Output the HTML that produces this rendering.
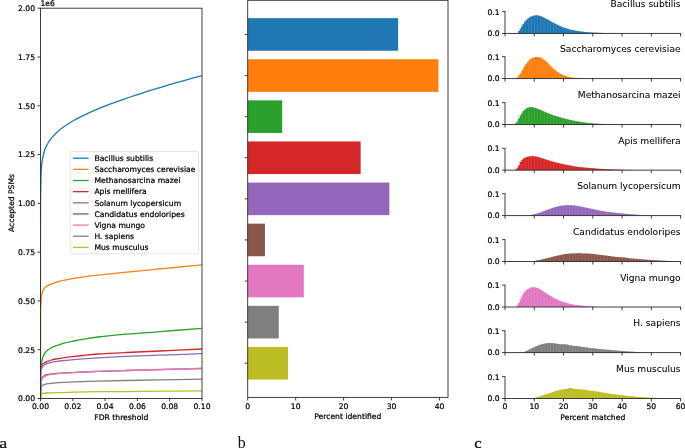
<!DOCTYPE html>
<html><head><meta charset="utf-8"><title>figure</title>
<style>html,body{margin:0;padding:0;background:#fff;overflow:hidden}svg{display:block}
text{font-family:"DejaVu Sans","Liberation Sans",sans-serif;fill:#000;stroke:#000;stroke-width:0.22px}</style></head>
<body><svg width="685" height="448" viewBox="0 0 685 448">
<rect width="685" height="448" fill="#fff"/>
<clipPath id="ca"><rect x="40.5" y="8.2" width="161.5" height="390.3"/></clipPath><g clip-path="url(#ca)">
<path d="M40.45,398 C40.45,370 40.43,262.17 40.45,230 C40.47,197.83 40.5,211.67 40.55,205 C40.6,198.33 40.67,194.67 40.75,190 C40.83,185.33 40.88,180.93 41,177 C41.12,173.07 41.2,169.65 41.5,166.4 C41.8,163.15 42.23,160.31 42.8,157.5 C43.37,154.69 44.28,151.45 44.9,149.51 C45.52,147.57 45.9,147.06 46.5,145.85 C47.1,144.64 47.75,143.46 48.5,142.27 C49.25,141.08 50.1,139.86 51,138.7 C51.9,137.54 52.9,136.39 53.9,135.32 C54.9,134.24 55.85,133.31 57,132.27 C58.15,131.22 59.3,130.22 60.8,129.05 C62.3,127.89 63.92,126.66 66,125.28 C68.08,123.9 70.97,122.13 73.3,120.77 C75.63,119.42 77.22,118.56 80,117.16 C82.78,115.77 86.67,113.9 90,112.39 C93.33,110.88 96.67,109.48 100,108.12 C103.33,106.75 106.33,105.58 110,104.2 C113.67,102.82 117.83,101.3 122,99.83 C126.17,98.37 130.67,96.84 135,95.41 C139.33,93.98 143.83,92.54 148,91.23 C152.17,89.92 156,88.75 160,87.54 C164,86.34 167.83,85.2 172,83.99 C176.17,82.77 181.17,81.35 185,80.26 C188.83,79.17 192.17,78.25 195,77.46 C197.83,76.68 200.83,75.86 202,75.54" fill="none" stroke="#1f77b4" stroke-width="1.3" stroke-linejoin="round"/>
<path d="M40.45,398 C40.46,385 40.44,335.33 40.5,320 C40.56,304.67 40.65,309.75 40.8,306 C40.95,302.25 41.13,299.85 41.4,297.5 C41.67,295.15 42.03,293.27 42.4,291.9 C42.77,290.53 43.02,290.15 43.6,289.3 C44.18,288.45 44.7,287.65 45.9,286.8 C47.1,285.95 48.32,285.18 50.8,284.2 C53.28,283.22 55,282.17 60.8,280.9 C66.6,279.63 77.33,277.77 85.6,276.6 C93.87,275.43 102.13,274.77 110.4,273.9 C118.67,273.03 126.93,272.23 135.2,271.4 C143.47,270.57 151.72,269.72 160,268.9 C168.28,268.08 177.9,267.18 184.9,266.5 C191.9,265.82 199.15,265.08 202,264.8" fill="none" stroke="#ff7f0e" stroke-width="1.3" stroke-linejoin="round"/>
<path d="M40.45,398 C40.46,393.67 40.44,377.33 40.5,372 C40.56,366.67 40.62,367.62 40.8,366 C40.98,364.38 41.32,363.6 41.6,362.3 C41.88,361 42.06,359.55 42.5,358.2 C42.94,356.85 43.52,355.43 44.25,354.2 C44.98,352.97 45.71,351.88 46.9,350.8 C48.09,349.72 49.9,348.53 51.4,347.7 C52.9,346.87 53.67,346.6 55.9,345.8 C58.13,345 61.83,343.7 64.8,342.9 C67.77,342.1 70.73,341.58 73.7,341 C76.67,340.42 78.55,340.07 82.6,339.4 C86.65,338.73 90.77,337.87 98,337 C105.23,336.13 115.67,335.1 126,334.2 C136.33,333.3 147.33,332.57 160,331.6 C172.67,330.63 195,328.93 202,328.4" fill="none" stroke="#2ca02c" stroke-width="1.3" stroke-linejoin="round"/>
<path d="M40.45,398 C40.46,394.33 40.44,380.83 40.5,376 C40.56,371.17 40.62,370.73 40.8,369 C40.98,367.27 41.17,366.5 41.6,365.6 C42.03,364.7 42.52,364.25 43.4,363.6 C44.28,362.95 45.57,362.3 46.9,361.7 C48.23,361.1 49.9,360.45 51.4,360 C52.9,359.55 53.67,359.4 55.9,359 C58.13,358.6 61.83,358.02 64.8,357.6 C67.77,357.18 70.73,356.85 73.7,356.5 C76.67,356.15 78.55,355.92 82.6,355.5 C86.65,355.08 90.77,354.5 98,354 C105.23,353.5 115.67,353 126,352.5 C136.33,352 147.33,351.58 160,351 C172.67,350.42 195,349.33 202,349" fill="none" stroke="#d62728" stroke-width="1.3" stroke-linejoin="round"/>
<path d="M40.45,398 C40.46,394.67 40.44,382.33 40.5,378 C40.56,373.67 40.67,373.42 40.8,372 C40.93,370.58 41.02,370.42 41.3,369.5 C41.58,368.58 41.87,367.37 42.5,366.5 C43.13,365.63 43.62,364.98 45.1,364.3 C46.58,363.62 49.6,362.85 51.4,362.4 C53.2,361.95 53.67,361.92 55.9,361.6 C58.13,361.28 61.83,360.83 64.8,360.5 C67.77,360.17 70.73,359.88 73.7,359.6 C76.67,359.32 78.55,359.1 82.6,358.8 C86.65,358.5 90.77,358.2 98,357.8 C105.23,357.4 115.67,356.83 126,356.4 C136.33,355.97 147.33,355.67 160,355.2 C172.67,354.73 195,353.87 202,353.6" fill="none" stroke="#9467bd" stroke-width="1.3" stroke-linejoin="round"/>
<path d="M40.45,398 C40.46,396.5 40.44,391.25 40.5,389 C40.56,386.75 40.67,385.8 40.8,384.5 C40.93,383.2 41.1,382.28 41.3,381.2 C41.5,380.12 41.51,378.88 42,378 C42.49,377.12 43.43,376.45 44.25,375.9 C45.07,375.35 45.71,375.03 46.9,374.7 C48.09,374.37 49.9,374.1 51.4,373.9 C52.9,373.7 53.67,373.67 55.9,373.5 C58.13,373.33 60.35,373.15 64.8,372.9 C69.25,372.65 77.07,372.25 82.6,372 C88.13,371.75 90.77,371.65 98,371.4 C105.23,371.15 115.67,370.8 126,370.5 C136.33,370.2 147.33,369.93 160,369.6 C172.67,369.27 195,368.68 202,368.5" fill="none" stroke="#8c564b" stroke-width="1.3" stroke-linejoin="round"/>
<path d="M40.45,398 C40.46,396.67 40.44,392.08 40.5,390 C40.56,387.92 40.67,386.78 40.8,385.5 C40.93,384.22 41.1,383.4 41.3,382.3 C41.5,381.2 41.51,379.85 42,378.9 C42.49,377.95 43.43,377.2 44.25,376.6 C45.07,376 45.71,375.67 46.9,375.3 C48.09,374.93 49.9,374.63 51.4,374.4 C52.9,374.17 53.67,374.1 55.9,373.9 C58.13,373.7 60.35,373.5 64.8,373.2 C69.25,372.9 77.07,372.39 82.6,372.1 C88.13,371.81 90.77,371.72 98,371.45 C105.23,371.18 115.67,370.82 126,370.5 C136.33,370.18 147.33,369.87 160,369.5 C172.67,369.13 195,368.5 202,368.3" fill="none" stroke="#e377c2" stroke-width="1.3" stroke-linejoin="round"/>
<path d="M40.45,398 C40.46,397.33 40.46,395.17 40.5,394 C40.54,392.83 40.62,391.9 40.7,391 C40.78,390.1 40.78,389.45 41,388.6 C41.22,387.75 41.46,386.57 42,385.9 C42.54,385.22 43.43,384.9 44.25,384.55 C45.07,384.2 44.96,384.09 46.9,383.8 C48.84,383.51 52.92,383.05 55.9,382.8 C58.88,382.55 60.35,382.5 64.8,382.3 C69.25,382.1 77.07,381.78 82.6,381.6 C88.13,381.42 90.77,381.38 98,381.2 C105.23,381.02 115.67,380.72 126,380.5 C136.33,380.28 147.33,380.12 160,379.9 C172.67,379.68 195,379.32 202,379.2" fill="none" stroke="#7f7f7f" stroke-width="1.3" stroke-linejoin="round"/>
<path d="M40.45,398 C40.46,397.75 40.42,397.1 40.5,396.5 C40.58,395.9 40.62,394.9 40.95,394.4 C41.28,393.9 41.51,393.73 42.5,393.5 C43.49,393.27 44.67,393.13 46.9,393 C49.13,392.87 51.43,392.85 55.9,392.7 C60.37,392.55 66.68,392.28 73.7,392.1 C80.72,391.92 89.28,391.69 98,391.6 C106.72,391.51 115.67,391.62 126,391.55 C136.33,391.48 147.33,391.32 160,391.2 C172.67,391.07 195,390.87 202,390.8" fill="none" stroke="#bcbd22" stroke-width="1.3" stroke-linejoin="round"/>
</g><g>
<rect x="40.5" y="8.2" width="161.5" height="390.3" fill="none" stroke="#2a2a2a" stroke-width="0.9"/>
<line x1="37.5" y1="398.5" x2="40.5" y2="398.5" stroke="#2a2a2a" stroke-width="0.9" />
<text x="35.1" y="401.35" font-size="7.65" text-anchor="end" >0.00</text>
<line x1="37.5" y1="349.71" x2="40.5" y2="349.71" stroke="#2a2a2a" stroke-width="0.9" />
<text x="35.1" y="352.56" font-size="7.65" text-anchor="end" >0.25</text>
<line x1="37.5" y1="300.93" x2="40.5" y2="300.93" stroke="#2a2a2a" stroke-width="0.9" />
<text x="35.1" y="303.78" font-size="7.65" text-anchor="end" >0.50</text>
<line x1="37.5" y1="252.14" x2="40.5" y2="252.14" stroke="#2a2a2a" stroke-width="0.9" />
<text x="35.1" y="254.99" font-size="7.65" text-anchor="end" >0.75</text>
<line x1="37.5" y1="203.35" x2="40.5" y2="203.35" stroke="#2a2a2a" stroke-width="0.9" />
<text x="35.1" y="206.2" font-size="7.65" text-anchor="end" >1.00</text>
<line x1="37.5" y1="154.56" x2="40.5" y2="154.56" stroke="#2a2a2a" stroke-width="0.9" />
<text x="35.1" y="157.41" font-size="7.65" text-anchor="end" >1.25</text>
<line x1="37.5" y1="105.77" x2="40.5" y2="105.77" stroke="#2a2a2a" stroke-width="0.9" />
<text x="35.1" y="108.62" font-size="7.65" text-anchor="end" >1.50</text>
<line x1="37.5" y1="56.99" x2="40.5" y2="56.99" stroke="#2a2a2a" stroke-width="0.9" />
<text x="35.1" y="59.84" font-size="7.65" text-anchor="end" >1.75</text>
<line x1="37.5" y1="8.2" x2="40.5" y2="8.2" stroke="#2a2a2a" stroke-width="0.9" />
<text x="35.1" y="11.05" font-size="7.65" text-anchor="end" >2.00</text>
<line x1="40.5" y1="398.5" x2="40.5" y2="401.1" stroke="#2a2a2a" stroke-width="0.9" />
<text x="40.5" y="409.3" font-size="7.65" text-anchor="middle" >0.00</text>
<line x1="72.8" y1="398.5" x2="72.8" y2="401.1" stroke="#2a2a2a" stroke-width="0.9" />
<text x="72.8" y="409.3" font-size="7.65" text-anchor="middle" >0.02</text>
<line x1="105.1" y1="398.5" x2="105.1" y2="401.1" stroke="#2a2a2a" stroke-width="0.9" />
<text x="105.1" y="409.3" font-size="7.65" text-anchor="middle" >0.04</text>
<line x1="137.4" y1="398.5" x2="137.4" y2="401.1" stroke="#2a2a2a" stroke-width="0.9" />
<text x="137.4" y="409.3" font-size="7.65" text-anchor="middle" >0.06</text>
<line x1="169.7" y1="398.5" x2="169.7" y2="401.1" stroke="#2a2a2a" stroke-width="0.9" />
<text x="169.7" y="409.3" font-size="7.65" text-anchor="middle" >0.08</text>
<line x1="202" y1="398.5" x2="202" y2="401.1" stroke="#2a2a2a" stroke-width="0.9" />
<text x="202" y="409.3" font-size="7.65" text-anchor="middle" >0.10</text>
<text x="121.3" y="419.7" font-size="7.65" text-anchor="middle" >FDR threshold</text>
<text x="40.4" y="5.9" font-size="7.65" text-anchor="start" >1e6</text>
<text x="0" y="0" font-size="7.65" text-anchor="middle" transform="translate(13.6,203) rotate(-90)">Accepted PSMs</text>
<rect x="70.2" y="151.5" width="128.3" height="102.3" rx="1.5" fill="#fff" fill-opacity="0.8" stroke="#ccc" stroke-opacity="0.8" stroke-width="0.7"/>
<line x1="73" y1="158.2" x2="88.6" y2="158.2" stroke="#1f77b4" stroke-width="1.3" />
<text x="94.4" y="160.9" font-size="7.65" text-anchor="start" >Bacillus subtilis</text>
<line x1="73" y1="169.35" x2="88.6" y2="169.35" stroke="#ff7f0e" stroke-width="1.3" />
<text x="94.4" y="172.05" font-size="7.65" text-anchor="start" >Saccharomyces cerevisiae</text>
<line x1="73" y1="180.5" x2="88.6" y2="180.5" stroke="#2ca02c" stroke-width="1.3" />
<text x="94.4" y="183.2" font-size="7.65" text-anchor="start" >Methanosarcina mazei</text>
<line x1="73" y1="191.65" x2="88.6" y2="191.65" stroke="#d62728" stroke-width="1.3" />
<text x="94.4" y="194.35" font-size="7.65" text-anchor="start" >Apis mellifera</text>
<line x1="73" y1="202.8" x2="88.6" y2="202.8" stroke="#9467bd" stroke-width="1.3" />
<text x="94.4" y="205.5" font-size="7.65" text-anchor="start" >Solanum lycopersicum</text>
<line x1="73" y1="213.95" x2="88.6" y2="213.95" stroke="#8c564b" stroke-width="1.3" />
<text x="94.4" y="216.65" font-size="7.65" text-anchor="start" >Candidatus endoloripes</text>
<line x1="73" y1="225.1" x2="88.6" y2="225.1" stroke="#e377c2" stroke-width="1.3" />
<text x="94.4" y="227.8" font-size="7.65" text-anchor="start" >Vigna mungo</text>
<line x1="73" y1="236.25" x2="88.6" y2="236.25" stroke="#7f7f7f" stroke-width="1.3" />
<text x="94.4" y="238.95" font-size="7.65" text-anchor="start" >H. sapiens</text>
<line x1="73" y1="247.4" x2="88.6" y2="247.4" stroke="#bcbd22" stroke-width="1.3" />
<text x="94.4" y="250.1" font-size="7.65" text-anchor="start" >Mus musculus</text>
</g>
<g>
<rect x="247.7" y="18.15" width="150.43" height="32.6" fill="#1f77b4"/>
<line x1="244.7" y1="34.45" x2="247.7" y2="34.45" stroke="#2a2a2a" stroke-width="0.9" />
<rect x="247.7" y="59.25" width="190.76" height="32.6" fill="#ff7f0e"/>
<line x1="244.7" y1="75.55" x2="247.7" y2="75.55" stroke="#2a2a2a" stroke-width="0.9" />
<rect x="247.7" y="100.35" width="34.53" height="32.6" fill="#2ca02c"/>
<line x1="244.7" y1="116.65" x2="247.7" y2="116.65" stroke="#2a2a2a" stroke-width="0.9" />
<rect x="247.7" y="141.45" width="112.93" height="32.6" fill="#d62728"/>
<line x1="244.7" y1="157.75" x2="247.7" y2="157.75" stroke="#2a2a2a" stroke-width="0.9" />
<rect x="247.7" y="182.55" width="141.7" height="32.6" fill="#9467bd"/>
<line x1="244.7" y1="198.85" x2="247.7" y2="198.85" stroke="#2a2a2a" stroke-width="0.9" />
<rect x="247.7" y="223.65" width="17.26" height="32.6" fill="#8c564b"/>
<line x1="244.7" y1="239.95" x2="247.7" y2="239.95" stroke="#2a2a2a" stroke-width="0.9" />
<rect x="247.7" y="264.75" width="56.11" height="32.6" fill="#e377c2"/>
<line x1="244.7" y1="281.05" x2="247.7" y2="281.05" stroke="#2a2a2a" stroke-width="0.9" />
<rect x="247.7" y="305.85" width="31.07" height="32.6" fill="#7f7f7f"/>
<line x1="244.7" y1="322.15" x2="247.7" y2="322.15" stroke="#2a2a2a" stroke-width="0.9" />
<rect x="247.7" y="346.95" width="40.28" height="32.6" fill="#bcbd22"/>
<line x1="244.7" y1="363.25" x2="247.7" y2="363.25" stroke="#2a2a2a" stroke-width="0.9" />
<rect x="247.7" y="0.3" width="200.3" height="397.1" fill="none" stroke="#2a2a2a" stroke-width="0.9"/>
<line x1="247.7" y1="397.4" x2="247.7" y2="400.4" stroke="#2a2a2a" stroke-width="0.9" />
<text x="247.7" y="409" font-size="7.65" text-anchor="middle" >0</text>
<line x1="295.65" y1="397.4" x2="295.65" y2="400.4" stroke="#2a2a2a" stroke-width="0.9" />
<text x="295.65" y="409" font-size="7.65" text-anchor="middle" >10</text>
<line x1="343.61" y1="397.4" x2="343.61" y2="400.4" stroke="#2a2a2a" stroke-width="0.9" />
<text x="343.61" y="409" font-size="7.65" text-anchor="middle" >20</text>
<line x1="391.56" y1="397.4" x2="391.56" y2="400.4" stroke="#2a2a2a" stroke-width="0.9" />
<text x="391.56" y="409" font-size="7.65" text-anchor="middle" >30</text>
<line x1="439.52" y1="397.4" x2="439.52" y2="400.4" stroke="#2a2a2a" stroke-width="0.9" />
<text x="439.52" y="409" font-size="7.65" text-anchor="middle" >40</text>
<text x="347.8" y="418.9" font-size="7.65" text-anchor="middle" >Percent identified</text>
</g>
<g>
<g fill="#1f77b4">
<rect x="518.17" y="30.95" width="1.813" height="2.50"/>
<rect x="519.63" y="28.56" width="1.813" height="4.89"/>
<rect x="521.10" y="26.21" width="1.813" height="7.24"/>
<rect x="522.56" y="23.87" width="1.813" height="9.58"/>
<rect x="524.02" y="21.67" width="1.813" height="11.78"/>
<rect x="525.49" y="20.20" width="1.813" height="13.25"/>
<rect x="526.95" y="18.74" width="1.813" height="14.71"/>
<rect x="528.41" y="17.54" width="1.813" height="15.91"/>
<rect x="529.88" y="16.81" width="1.813" height="16.64"/>
<rect x="531.34" y="16.08" width="1.813" height="17.37"/>
<rect x="532.80" y="15.64" width="1.813" height="17.81"/>
<rect x="534.27" y="15.42" width="1.813" height="18.03"/>
<rect x="535.73" y="15.20" width="1.813" height="18.25"/>
<rect x="537.19" y="15.44" width="1.813" height="18.01"/>
<rect x="538.66" y="15.80" width="1.813" height="17.65"/>
<rect x="540.12" y="16.17" width="1.813" height="17.28"/>
<rect x="541.58" y="16.90" width="1.813" height="16.55"/>
<rect x="543.05" y="17.63" width="1.813" height="15.82"/>
<rect x="544.51" y="18.36" width="1.813" height="15.09"/>
<rect x="545.97" y="19.09" width="1.813" height="14.36"/>
<rect x="547.44" y="19.90" width="1.813" height="13.55"/>
<rect x="548.90" y="20.73" width="1.813" height="12.72"/>
<rect x="550.36" y="21.56" width="1.813" height="11.89"/>
<rect x="551.83" y="22.39" width="1.813" height="11.06"/>
<rect x="553.29" y="23.16" width="1.813" height="10.29"/>
<rect x="554.75" y="23.89" width="1.813" height="9.56"/>
<rect x="556.22" y="24.62" width="1.813" height="8.83"/>
<rect x="557.68" y="25.35" width="1.813" height="8.10"/>
<rect x="559.14" y="26.08" width="1.813" height="7.37"/>
<rect x="560.61" y="26.81" width="1.813" height="6.64"/>
<rect x="562.07" y="27.29" width="1.813" height="6.16"/>
<rect x="563.53" y="27.76" width="1.813" height="5.69"/>
<rect x="565.00" y="28.24" width="1.813" height="5.21"/>
<rect x="566.46" y="28.71" width="1.813" height="4.74"/>
<rect x="567.92" y="29.19" width="1.813" height="4.26"/>
<rect x="569.39" y="29.59" width="1.813" height="3.86"/>
<rect x="570.85" y="29.88" width="1.813" height="3.57"/>
<rect x="572.31" y="30.17" width="1.813" height="3.28"/>
<rect x="573.78" y="30.46" width="1.813" height="2.99"/>
<rect x="575.24" y="30.76" width="1.813" height="2.69"/>
<rect x="576.70" y="31.05" width="1.813" height="2.40"/>
<rect x="578.17" y="31.25" width="1.813" height="2.20"/>
<rect x="579.63" y="31.43" width="1.813" height="2.02"/>
<rect x="581.09" y="31.61" width="1.813" height="1.84"/>
<rect x="582.56" y="31.80" width="1.813" height="1.65"/>
<rect x="584.02" y="31.98" width="1.813" height="1.47"/>
<rect x="585.48" y="32.14" width="1.813" height="1.31"/>
<rect x="586.95" y="32.23" width="1.813" height="1.22"/>
<rect x="588.41" y="32.31" width="1.813" height="1.14"/>
<rect x="589.87" y="32.40" width="1.813" height="1.05"/>
<rect x="591.34" y="32.49" width="1.813" height="0.96"/>
<rect x="592.80" y="32.58" width="1.813" height="0.87"/>
<rect x="594.26" y="32.67" width="1.813" height="0.78"/>
<rect x="595.73" y="32.74" width="1.813" height="0.71"/>
<rect x="597.19" y="32.79" width="1.813" height="0.66"/>
<rect x="598.65" y="32.84" width="1.813" height="0.61"/>
<rect x="600.12" y="32.89" width="1.813" height="0.56"/>
<rect x="601.58" y="32.94" width="1.813" height="0.51"/>
<rect x="603.04" y="32.99" width="1.813" height="0.46"/>
<rect x="604.51" y="33.04" width="1.813" height="0.41"/>
<rect x="605.97" y="33.08" width="1.813" height="0.37"/>
<rect x="607.43" y="33.13" width="1.813" height="0.32"/>
<rect x="608.90" y="33.17" width="1.813" height="0.28"/>
<rect x="610.36" y="33.20" width="1.813" height="0.25"/>
<rect x="611.82" y="33.23" width="1.813" height="0.22"/>
<rect x="613.29" y="33.26" width="1.813" height="0.19"/>
<rect x="614.75" y="33.29" width="1.813" height="0.16"/>
<rect x="616.21" y="33.33" width="1.813" height="0.12"/>
</g>
<line x1="505" y1="11.15" x2="505" y2="33.9" stroke="#2a2a2a" stroke-width="0.9" />
<line x1="505" y1="33.45" x2="681.05" y2="33.45" stroke="#2a2a2a" stroke-width="0.9" />
<line x1="502" y1="11.6" x2="505" y2="11.6" stroke="#2a2a2a" stroke-width="0.9" />
<text x="499.6" y="14.75" font-size="7.65" text-anchor="end" >0.1</text>
<line x1="502" y1="33.45" x2="505" y2="33.45" stroke="#2a2a2a" stroke-width="0.9" />
<text x="499.6" y="36.3" font-size="7.65" text-anchor="end" >0.0</text>
<line x1="505" y1="33.45" x2="505" y2="36.45" stroke="#2a2a2a" stroke-width="0.9" />
<line x1="534.27" y1="33.45" x2="534.27" y2="36.45" stroke="#2a2a2a" stroke-width="0.9" />
<line x1="563.53" y1="33.45" x2="563.53" y2="36.45" stroke="#2a2a2a" stroke-width="0.9" />
<line x1="592.8" y1="33.45" x2="592.8" y2="36.45" stroke="#2a2a2a" stroke-width="0.9" />
<line x1="622.07" y1="33.45" x2="622.07" y2="36.45" stroke="#2a2a2a" stroke-width="0.9" />
<line x1="651.33" y1="33.45" x2="651.33" y2="36.45" stroke="#2a2a2a" stroke-width="0.9" />
<line x1="680.6" y1="33.45" x2="680.6" y2="36.45" stroke="#2a2a2a" stroke-width="0.9" />
<text x="680.6" y="7.25" font-size="9.12" text-anchor="end" style="stroke-width:0.06px">Bacillus subtilis</text>
<g fill="#ff7f0e">
<rect x="516.71" y="77.18" width="1.813" height="1.37"/>
<rect x="518.17" y="75.34" width="1.813" height="3.21"/>
<rect x="519.63" y="73.51" width="1.813" height="5.04"/>
<rect x="521.10" y="70.98" width="1.813" height="7.57"/>
<rect x="522.56" y="68.42" width="1.813" height="10.13"/>
<rect x="524.02" y="65.94" width="1.813" height="12.61"/>
<rect x="525.49" y="63.89" width="1.813" height="14.66"/>
<rect x="526.95" y="61.84" width="1.813" height="16.71"/>
<rect x="528.41" y="60.14" width="1.813" height="18.41"/>
<rect x="529.88" y="59.04" width="1.813" height="19.51"/>
<rect x="531.34" y="57.95" width="1.813" height="20.60"/>
<rect x="532.80" y="57.35" width="1.813" height="21.20"/>
<rect x="534.27" y="57.13" width="1.813" height="21.42"/>
<rect x="535.73" y="56.91" width="1.813" height="21.64"/>
<rect x="537.19" y="57.09" width="1.813" height="21.46"/>
<rect x="538.66" y="57.38" width="1.813" height="21.17"/>
<rect x="540.12" y="57.67" width="1.813" height="20.88"/>
<rect x="541.58" y="58.69" width="1.813" height="19.86"/>
<rect x="543.05" y="59.71" width="1.813" height="18.84"/>
<rect x="544.51" y="60.82" width="1.813" height="17.73"/>
<rect x="545.97" y="62.28" width="1.813" height="16.27"/>
<rect x="547.44" y="63.75" width="1.813" height="14.80"/>
<rect x="548.90" y="65.21" width="1.813" height="13.34"/>
<rect x="550.36" y="66.67" width="1.813" height="11.88"/>
<rect x="551.83" y="68.14" width="1.813" height="10.41"/>
<rect x="553.29" y="69.42" width="1.813" height="9.13"/>
<rect x="554.75" y="70.59" width="1.813" height="7.96"/>
<rect x="556.22" y="71.76" width="1.813" height="6.79"/>
<rect x="557.68" y="72.70" width="1.813" height="5.85"/>
<rect x="559.14" y="73.58" width="1.813" height="4.97"/>
<rect x="560.61" y="74.45" width="1.813" height="4.10"/>
<rect x="562.07" y="75.03" width="1.813" height="3.52"/>
<rect x="563.53" y="75.62" width="1.813" height="2.93"/>
<rect x="565.00" y="76.15" width="1.813" height="2.40"/>
<rect x="566.46" y="76.49" width="1.813" height="2.06"/>
<rect x="567.92" y="76.83" width="1.813" height="1.72"/>
<rect x="569.39" y="77.17" width="1.813" height="1.38"/>
<rect x="570.85" y="77.51" width="1.813" height="1.04"/>
<rect x="572.31" y="77.65" width="1.813" height="0.90"/>
<rect x="573.78" y="77.80" width="1.813" height="0.75"/>
<rect x="575.24" y="77.95" width="1.813" height="0.60"/>
<rect x="576.70" y="78.09" width="1.813" height="0.46"/>
<rect x="578.17" y="78.24" width="1.813" height="0.31"/>
<rect x="579.63" y="78.35" width="1.813" height="0.20"/>
<rect x="581.09" y="78.40" width="1.813" height="0.15"/>
</g>
<line x1="505" y1="56.25" x2="505" y2="79" stroke="#2a2a2a" stroke-width="0.9" />
<line x1="505" y1="78.55" x2="681.05" y2="78.55" stroke="#2a2a2a" stroke-width="0.9" />
<line x1="502" y1="56.7" x2="505" y2="56.7" stroke="#2a2a2a" stroke-width="0.9" />
<text x="499.6" y="59.85" font-size="7.65" text-anchor="end" >0.1</text>
<line x1="502" y1="78.55" x2="505" y2="78.55" stroke="#2a2a2a" stroke-width="0.9" />
<text x="499.6" y="81.4" font-size="7.65" text-anchor="end" >0.0</text>
<line x1="505" y1="78.55" x2="505" y2="81.55" stroke="#2a2a2a" stroke-width="0.9" />
<line x1="534.27" y1="78.55" x2="534.27" y2="81.55" stroke="#2a2a2a" stroke-width="0.9" />
<line x1="563.53" y1="78.55" x2="563.53" y2="81.55" stroke="#2a2a2a" stroke-width="0.9" />
<line x1="592.8" y1="78.55" x2="592.8" y2="81.55" stroke="#2a2a2a" stroke-width="0.9" />
<line x1="622.07" y1="78.55" x2="622.07" y2="81.55" stroke="#2a2a2a" stroke-width="0.9" />
<line x1="651.33" y1="78.55" x2="651.33" y2="81.55" stroke="#2a2a2a" stroke-width="0.9" />
<line x1="680.6" y1="78.55" x2="680.6" y2="81.55" stroke="#2a2a2a" stroke-width="0.9" />
<text x="680.6" y="52.35" font-size="9.12" text-anchor="end" style="stroke-width:0.06px">Saccharomyces cerevisiae</text>
<g fill="#2ca02c">
<rect x="515.24" y="123.06" width="1.813" height="1.44"/>
<rect x="516.71" y="121.33" width="1.813" height="3.17"/>
<rect x="518.17" y="118.40" width="1.813" height="6.10"/>
<rect x="519.63" y="115.47" width="1.813" height="9.03"/>
<rect x="521.10" y="113.20" width="1.813" height="11.30"/>
<rect x="522.56" y="110.95" width="1.813" height="13.55"/>
<rect x="524.02" y="109.63" width="1.813" height="14.87"/>
<rect x="525.49" y="108.46" width="1.813" height="16.04"/>
<rect x="526.95" y="107.84" width="1.813" height="16.66"/>
<rect x="528.41" y="107.40" width="1.813" height="17.10"/>
<rect x="529.88" y="106.96" width="1.813" height="17.54"/>
<rect x="531.34" y="107.23" width="1.813" height="17.27"/>
<rect x="532.80" y="107.52" width="1.813" height="16.98"/>
<rect x="534.27" y="107.87" width="1.813" height="16.63"/>
<rect x="535.73" y="108.45" width="1.813" height="16.05"/>
<rect x="537.19" y="109.04" width="1.813" height="15.46"/>
<rect x="538.66" y="109.62" width="1.813" height="14.88"/>
<rect x="540.12" y="110.21" width="1.813" height="14.29"/>
<rect x="541.58" y="110.84" width="1.813" height="13.66"/>
<rect x="543.05" y="111.48" width="1.813" height="13.02"/>
<rect x="544.51" y="112.11" width="1.813" height="12.39"/>
<rect x="545.97" y="112.75" width="1.813" height="11.75"/>
<rect x="547.44" y="113.34" width="1.813" height="11.16"/>
<rect x="548.90" y="113.93" width="1.813" height="10.57"/>
<rect x="550.36" y="114.51" width="1.813" height="9.99"/>
<rect x="551.83" y="115.10" width="1.813" height="9.40"/>
<rect x="553.29" y="115.59" width="1.813" height="8.91"/>
<rect x="554.75" y="116.03" width="1.813" height="8.47"/>
<rect x="556.22" y="116.47" width="1.813" height="8.03"/>
<rect x="557.68" y="116.91" width="1.813" height="7.59"/>
<rect x="559.14" y="117.35" width="1.813" height="7.15"/>
<rect x="560.61" y="117.79" width="1.813" height="6.71"/>
<rect x="562.07" y="118.15" width="1.813" height="6.35"/>
<rect x="563.53" y="118.52" width="1.813" height="5.98"/>
<rect x="565.00" y="118.88" width="1.813" height="5.62"/>
<rect x="566.46" y="119.25" width="1.813" height="5.25"/>
<rect x="567.92" y="119.62" width="1.813" height="4.88"/>
<rect x="569.39" y="119.95" width="1.813" height="4.55"/>
<rect x="570.85" y="120.24" width="1.813" height="4.26"/>
<rect x="572.31" y="120.54" width="1.813" height="3.96"/>
<rect x="573.78" y="120.83" width="1.813" height="3.67"/>
<rect x="575.24" y="121.12" width="1.813" height="3.38"/>
<rect x="576.70" y="121.41" width="1.813" height="3.09"/>
<rect x="578.17" y="121.64" width="1.813" height="2.86"/>
<rect x="579.63" y="121.86" width="1.813" height="2.64"/>
<rect x="581.09" y="122.08" width="1.813" height="2.42"/>
<rect x="582.56" y="122.30" width="1.813" height="2.20"/>
<rect x="584.02" y="122.52" width="1.813" height="1.98"/>
<rect x="585.48" y="122.72" width="1.813" height="1.78"/>
<rect x="586.95" y="122.87" width="1.813" height="1.63"/>
<rect x="588.41" y="123.02" width="1.813" height="1.48"/>
<rect x="589.87" y="123.16" width="1.813" height="1.34"/>
<rect x="591.34" y="123.31" width="1.813" height="1.19"/>
<rect x="592.80" y="123.45" width="1.813" height="1.05"/>
<rect x="594.26" y="123.55" width="1.813" height="0.95"/>
<rect x="595.73" y="123.63" width="1.813" height="0.87"/>
<rect x="597.19" y="123.70" width="1.813" height="0.80"/>
<rect x="598.65" y="123.77" width="1.813" height="0.73"/>
<rect x="600.12" y="123.84" width="1.813" height="0.66"/>
<rect x="601.58" y="123.92" width="1.813" height="0.58"/>
<rect x="603.04" y="123.99" width="1.813" height="0.51"/>
<rect x="604.51" y="124.06" width="1.813" height="0.44"/>
<rect x="605.97" y="124.13" width="1.813" height="0.37"/>
<rect x="607.43" y="124.18" width="1.813" height="0.32"/>
<rect x="608.90" y="124.22" width="1.813" height="0.28"/>
<rect x="610.36" y="124.27" width="1.813" height="0.23"/>
<rect x="611.82" y="124.31" width="1.813" height="0.19"/>
<rect x="613.29" y="124.36" width="1.813" height="0.14"/>
</g>
<line x1="505" y1="102.2" x2="505" y2="124.95" stroke="#2a2a2a" stroke-width="0.9" />
<line x1="505" y1="124.5" x2="681.05" y2="124.5" stroke="#2a2a2a" stroke-width="0.9" />
<line x1="502" y1="102.65" x2="505" y2="102.65" stroke="#2a2a2a" stroke-width="0.9" />
<text x="499.6" y="105.8" font-size="7.65" text-anchor="end" >0.1</text>
<line x1="502" y1="124.5" x2="505" y2="124.5" stroke="#2a2a2a" stroke-width="0.9" />
<text x="499.6" y="127.35" font-size="7.65" text-anchor="end" >0.0</text>
<line x1="505" y1="124.5" x2="505" y2="127.5" stroke="#2a2a2a" stroke-width="0.9" />
<line x1="534.27" y1="124.5" x2="534.27" y2="127.5" stroke="#2a2a2a" stroke-width="0.9" />
<line x1="563.53" y1="124.5" x2="563.53" y2="127.5" stroke="#2a2a2a" stroke-width="0.9" />
<line x1="592.8" y1="124.5" x2="592.8" y2="127.5" stroke="#2a2a2a" stroke-width="0.9" />
<line x1="622.07" y1="124.5" x2="622.07" y2="127.5" stroke="#2a2a2a" stroke-width="0.9" />
<line x1="651.33" y1="124.5" x2="651.33" y2="127.5" stroke="#2a2a2a" stroke-width="0.9" />
<line x1="680.6" y1="124.5" x2="680.6" y2="127.5" stroke="#2a2a2a" stroke-width="0.9" />
<text x="680.6" y="98.3" font-size="9.12" text-anchor="end" style="stroke-width:0.06px">Methanosarcina mazei</text>
<g fill="#d62728">
<rect x="515.24" y="169.37" width="1.813" height="0.78"/>
<rect x="516.71" y="167.61" width="1.813" height="2.54"/>
<rect x="518.17" y="165.29" width="1.813" height="4.86"/>
<rect x="519.63" y="161.93" width="1.813" height="8.22"/>
<rect x="521.10" y="160.18" width="1.813" height="9.97"/>
<rect x="522.56" y="158.52" width="1.813" height="11.63"/>
<rect x="524.02" y="157.78" width="1.813" height="12.37"/>
<rect x="525.49" y="157.20" width="1.813" height="12.95"/>
<rect x="526.95" y="156.64" width="1.813" height="13.51"/>
<rect x="528.41" y="156.46" width="1.813" height="13.69"/>
<rect x="529.88" y="156.29" width="1.813" height="13.86"/>
<rect x="531.34" y="156.11" width="1.813" height="14.04"/>
<rect x="532.80" y="156.17" width="1.813" height="13.98"/>
<rect x="534.27" y="156.40" width="1.813" height="13.75"/>
<rect x="535.73" y="156.64" width="1.813" height="13.51"/>
<rect x="537.19" y="156.89" width="1.813" height="13.26"/>
<rect x="538.66" y="157.40" width="1.813" height="12.75"/>
<rect x="540.12" y="157.90" width="1.813" height="12.25"/>
<rect x="541.58" y="158.40" width="1.813" height="11.75"/>
<rect x="543.05" y="158.90" width="1.813" height="11.25"/>
<rect x="544.51" y="159.39" width="1.813" height="10.76"/>
<rect x="545.97" y="159.83" width="1.813" height="10.32"/>
<rect x="547.44" y="160.27" width="1.813" height="9.88"/>
<rect x="548.90" y="160.71" width="1.813" height="9.44"/>
<rect x="550.36" y="161.15" width="1.813" height="9.00"/>
<rect x="551.83" y="161.58" width="1.813" height="8.57"/>
<rect x="553.29" y="161.98" width="1.813" height="8.17"/>
<rect x="554.75" y="162.35" width="1.813" height="7.80"/>
<rect x="556.22" y="162.71" width="1.813" height="7.44"/>
<rect x="557.68" y="163.08" width="1.813" height="7.07"/>
<rect x="559.14" y="163.44" width="1.813" height="6.71"/>
<rect x="560.61" y="163.81" width="1.813" height="6.34"/>
<rect x="562.07" y="164.10" width="1.813" height="6.05"/>
<rect x="563.53" y="164.39" width="1.813" height="5.76"/>
<rect x="565.00" y="164.69" width="1.813" height="5.46"/>
<rect x="566.46" y="164.98" width="1.813" height="5.17"/>
<rect x="567.92" y="165.27" width="1.813" height="4.88"/>
<rect x="569.39" y="165.55" width="1.813" height="4.60"/>
<rect x="570.85" y="165.80" width="1.813" height="4.35"/>
<rect x="572.31" y="166.06" width="1.813" height="4.09"/>
<rect x="573.78" y="166.32" width="1.813" height="3.83"/>
<rect x="575.24" y="166.57" width="1.813" height="3.58"/>
<rect x="576.70" y="166.83" width="1.813" height="3.32"/>
<rect x="578.17" y="166.99" width="1.813" height="3.16"/>
<rect x="579.63" y="167.14" width="1.813" height="3.01"/>
<rect x="581.09" y="167.28" width="1.813" height="2.87"/>
<rect x="582.56" y="167.43" width="1.813" height="2.72"/>
<rect x="584.02" y="167.58" width="1.813" height="2.57"/>
<rect x="585.48" y="167.72" width="1.813" height="2.43"/>
<rect x="586.95" y="167.84" width="1.813" height="2.31"/>
<rect x="588.41" y="167.96" width="1.813" height="2.19"/>
<rect x="589.87" y="168.08" width="1.813" height="2.07"/>
<rect x="591.34" y="168.20" width="1.813" height="1.95"/>
<rect x="592.80" y="168.33" width="1.813" height="1.82"/>
<rect x="594.26" y="168.45" width="1.813" height="1.70"/>
<rect x="595.73" y="168.57" width="1.813" height="1.58"/>
<rect x="597.19" y="168.69" width="1.813" height="1.46"/>
<rect x="598.65" y="168.77" width="1.813" height="1.38"/>
<rect x="600.12" y="168.84" width="1.813" height="1.31"/>
<rect x="601.58" y="168.92" width="1.813" height="1.23"/>
<rect x="603.04" y="168.99" width="1.813" height="1.16"/>
<rect x="604.51" y="169.06" width="1.813" height="1.09"/>
<rect x="605.97" y="169.14" width="1.813" height="1.01"/>
<rect x="607.43" y="169.21" width="1.813" height="0.94"/>
<rect x="608.90" y="169.28" width="1.813" height="0.87"/>
<rect x="610.36" y="169.35" width="1.813" height="0.80"/>
<rect x="611.82" y="169.40" width="1.813" height="0.75"/>
<rect x="613.29" y="169.46" width="1.813" height="0.69"/>
<rect x="614.75" y="169.51" width="1.813" height="0.64"/>
<rect x="616.21" y="169.57" width="1.813" height="0.58"/>
<rect x="617.68" y="169.62" width="1.813" height="0.53"/>
<rect x="619.14" y="169.68" width="1.813" height="0.47"/>
<rect x="620.60" y="169.73" width="1.813" height="0.42"/>
<rect x="622.07" y="169.79" width="1.813" height="0.36"/>
<rect x="623.53" y="169.84" width="1.813" height="0.31"/>
<rect x="624.99" y="169.90" width="1.813" height="0.25"/>
<rect x="626.46" y="169.94" width="1.813" height="0.21"/>
<rect x="627.92" y="169.96" width="1.813" height="0.19"/>
<rect x="629.38" y="169.98" width="1.813" height="0.17"/>
<rect x="630.85" y="170.00" width="1.813" height="0.15"/>
<rect x="632.31" y="170.02" width="1.813" height="0.13"/>
</g>
<line x1="505" y1="147.85" x2="505" y2="170.6" stroke="#2a2a2a" stroke-width="0.9" />
<line x1="505" y1="170.15" x2="681.05" y2="170.15" stroke="#2a2a2a" stroke-width="0.9" />
<line x1="502" y1="148.3" x2="505" y2="148.3" stroke="#2a2a2a" stroke-width="0.9" />
<text x="499.6" y="151.45" font-size="7.65" text-anchor="end" >0.1</text>
<line x1="502" y1="170.15" x2="505" y2="170.15" stroke="#2a2a2a" stroke-width="0.9" />
<text x="499.6" y="173" font-size="7.65" text-anchor="end" >0.0</text>
<line x1="505" y1="170.15" x2="505" y2="173.15" stroke="#2a2a2a" stroke-width="0.9" />
<line x1="534.27" y1="170.15" x2="534.27" y2="173.15" stroke="#2a2a2a" stroke-width="0.9" />
<line x1="563.53" y1="170.15" x2="563.53" y2="173.15" stroke="#2a2a2a" stroke-width="0.9" />
<line x1="592.8" y1="170.15" x2="592.8" y2="173.15" stroke="#2a2a2a" stroke-width="0.9" />
<line x1="622.07" y1="170.15" x2="622.07" y2="173.15" stroke="#2a2a2a" stroke-width="0.9" />
<line x1="651.33" y1="170.15" x2="651.33" y2="173.15" stroke="#2a2a2a" stroke-width="0.9" />
<line x1="680.6" y1="170.15" x2="680.6" y2="173.15" stroke="#2a2a2a" stroke-width="0.9" />
<text x="680.6" y="143.95" font-size="9.12" text-anchor="end" style="stroke-width:0.06px">Apis mellifera</text>
<g fill="#9467bd">
<rect x="528.41" y="215.26" width="1.813" height="0.32"/>
<rect x="529.88" y="215.01" width="1.813" height="0.57"/>
<rect x="531.34" y="214.75" width="1.813" height="0.83"/>
<rect x="532.80" y="214.38" width="1.813" height="1.20"/>
<rect x="534.27" y="214.01" width="1.813" height="1.57"/>
<rect x="535.73" y="213.65" width="1.813" height="1.93"/>
<rect x="537.19" y="213.19" width="1.813" height="2.39"/>
<rect x="538.66" y="212.71" width="1.813" height="2.87"/>
<rect x="540.12" y="212.24" width="1.813" height="3.34"/>
<rect x="541.58" y="211.71" width="1.813" height="3.87"/>
<rect x="543.05" y="211.17" width="1.813" height="4.41"/>
<rect x="544.51" y="210.62" width="1.813" height="4.96"/>
<rect x="545.97" y="210.07" width="1.813" height="5.51"/>
<rect x="547.44" y="209.52" width="1.813" height="6.06"/>
<rect x="548.90" y="208.97" width="1.813" height="6.61"/>
<rect x="550.36" y="208.44" width="1.813" height="7.14"/>
<rect x="551.83" y="207.97" width="1.813" height="7.61"/>
<rect x="553.29" y="207.49" width="1.813" height="8.09"/>
<rect x="554.75" y="207.02" width="1.813" height="8.56"/>
<rect x="556.22" y="206.66" width="1.813" height="8.92"/>
<rect x="557.68" y="206.29" width="1.813" height="9.29"/>
<rect x="559.14" y="205.93" width="1.813" height="9.65"/>
<rect x="560.61" y="205.72" width="1.813" height="9.86"/>
<rect x="562.07" y="205.54" width="1.813" height="10.04"/>
<rect x="563.53" y="205.36" width="1.813" height="10.22"/>
<rect x="565.00" y="205.28" width="1.813" height="10.30"/>
<rect x="566.46" y="205.24" width="1.813" height="10.34"/>
<rect x="567.92" y="205.20" width="1.813" height="10.38"/>
<rect x="569.39" y="205.22" width="1.813" height="10.36"/>
<rect x="570.85" y="205.30" width="1.813" height="10.28"/>
<rect x="572.31" y="205.37" width="1.813" height="10.21"/>
<rect x="573.78" y="205.50" width="1.813" height="10.08"/>
<rect x="575.24" y="205.76" width="1.813" height="9.82"/>
<rect x="576.70" y="206.01" width="1.813" height="9.57"/>
<rect x="578.17" y="206.27" width="1.813" height="9.31"/>
<rect x="579.63" y="206.56" width="1.813" height="9.02"/>
<rect x="581.09" y="206.86" width="1.813" height="8.72"/>
<rect x="582.56" y="207.15" width="1.813" height="8.43"/>
<rect x="584.02" y="207.44" width="1.813" height="8.14"/>
<rect x="585.48" y="207.74" width="1.813" height="7.84"/>
<rect x="586.95" y="208.03" width="1.813" height="7.55"/>
<rect x="588.41" y="208.35" width="1.813" height="7.23"/>
<rect x="589.87" y="208.68" width="1.813" height="6.90"/>
<rect x="591.34" y="209.01" width="1.813" height="6.57"/>
<rect x="592.80" y="209.32" width="1.813" height="6.26"/>
<rect x="594.26" y="209.61" width="1.813" height="5.97"/>
<rect x="595.73" y="209.90" width="1.813" height="5.68"/>
<rect x="597.19" y="210.19" width="1.813" height="5.39"/>
<rect x="598.65" y="210.49" width="1.813" height="5.09"/>
<rect x="600.12" y="210.78" width="1.813" height="4.80"/>
<rect x="601.58" y="211.07" width="1.813" height="4.51"/>
<rect x="603.04" y="211.36" width="1.813" height="4.22"/>
<rect x="604.51" y="211.64" width="1.813" height="3.94"/>
<rect x="605.97" y="211.80" width="1.813" height="3.78"/>
<rect x="607.43" y="211.97" width="1.813" height="3.61"/>
<rect x="608.90" y="212.14" width="1.813" height="3.44"/>
<rect x="610.36" y="212.31" width="1.813" height="3.27"/>
<rect x="611.82" y="212.47" width="1.813" height="3.11"/>
<rect x="613.29" y="212.64" width="1.813" height="2.94"/>
<rect x="614.75" y="212.81" width="1.813" height="2.77"/>
<rect x="616.21" y="212.97" width="1.813" height="2.61"/>
<rect x="617.68" y="213.11" width="1.813" height="2.47"/>
<rect x="619.14" y="213.26" width="1.813" height="2.32"/>
<rect x="620.60" y="213.41" width="1.813" height="2.17"/>
<rect x="622.07" y="213.55" width="1.813" height="2.03"/>
<rect x="623.53" y="213.70" width="1.813" height="1.88"/>
<rect x="624.99" y="213.85" width="1.813" height="1.73"/>
<rect x="626.46" y="213.98" width="1.813" height="1.60"/>
<rect x="627.92" y="214.10" width="1.813" height="1.48"/>
<rect x="629.38" y="214.22" width="1.813" height="1.36"/>
<rect x="630.85" y="214.33" width="1.813" height="1.25"/>
<rect x="632.31" y="214.45" width="1.813" height="1.13"/>
<rect x="633.77" y="214.57" width="1.813" height="1.01"/>
<rect x="635.24" y="214.69" width="1.813" height="0.89"/>
<rect x="636.70" y="214.78" width="1.813" height="0.80"/>
<rect x="638.16" y="214.85" width="1.813" height="0.73"/>
<rect x="639.63" y="214.91" width="1.813" height="0.67"/>
<rect x="641.09" y="214.97" width="1.813" height="0.61"/>
<rect x="642.55" y="215.03" width="1.813" height="0.55"/>
<rect x="644.02" y="215.10" width="1.813" height="0.48"/>
<rect x="645.48" y="215.16" width="1.813" height="0.42"/>
<rect x="646.94" y="215.22" width="1.813" height="0.36"/>
<rect x="648.41" y="215.29" width="1.813" height="0.29"/>
<rect x="649.87" y="215.35" width="1.813" height="0.23"/>
<rect x="651.33" y="215.39" width="1.813" height="0.19"/>
<rect x="652.80" y="215.41" width="1.813" height="0.17"/>
<rect x="654.26" y="215.44" width="1.813" height="0.14"/>
</g>
<line x1="505" y1="193.28" x2="505" y2="216.03" stroke="#2a2a2a" stroke-width="0.9" />
<line x1="505" y1="215.58" x2="681.05" y2="215.58" stroke="#2a2a2a" stroke-width="0.9" />
<line x1="502" y1="193.73" x2="505" y2="193.73" stroke="#2a2a2a" stroke-width="0.9" />
<text x="499.6" y="196.88" font-size="7.65" text-anchor="end" >0.1</text>
<line x1="502" y1="215.58" x2="505" y2="215.58" stroke="#2a2a2a" stroke-width="0.9" />
<text x="499.6" y="218.43" font-size="7.65" text-anchor="end" >0.0</text>
<line x1="505" y1="215.58" x2="505" y2="218.58" stroke="#2a2a2a" stroke-width="0.9" />
<line x1="534.27" y1="215.58" x2="534.27" y2="218.58" stroke="#2a2a2a" stroke-width="0.9" />
<line x1="563.53" y1="215.58" x2="563.53" y2="218.58" stroke="#2a2a2a" stroke-width="0.9" />
<line x1="592.8" y1="215.58" x2="592.8" y2="218.58" stroke="#2a2a2a" stroke-width="0.9" />
<line x1="622.07" y1="215.58" x2="622.07" y2="218.58" stroke="#2a2a2a" stroke-width="0.9" />
<line x1="651.33" y1="215.58" x2="651.33" y2="218.58" stroke="#2a2a2a" stroke-width="0.9" />
<line x1="680.6" y1="215.58" x2="680.6" y2="218.58" stroke="#2a2a2a" stroke-width="0.9" />
<text x="680.6" y="189.38" font-size="9.12" text-anchor="end" style="stroke-width:0.06px">Solanum lycopersicum</text>
<g fill="#8c564b">
<rect x="532.80" y="261.23" width="1.813" height="0.27"/>
<rect x="534.27" y="260.90" width="1.813" height="0.60"/>
<rect x="535.73" y="260.57" width="1.813" height="0.93"/>
<rect x="537.19" y="260.27" width="1.813" height="1.23"/>
<rect x="538.66" y="259.97" width="1.813" height="1.53"/>
<rect x="540.12" y="259.68" width="1.813" height="1.82"/>
<rect x="541.58" y="259.36" width="1.813" height="2.14"/>
<rect x="543.05" y="258.99" width="1.813" height="2.51"/>
<rect x="544.51" y="258.62" width="1.813" height="2.88"/>
<rect x="545.97" y="258.26" width="1.813" height="3.24"/>
<rect x="547.44" y="257.89" width="1.813" height="3.61"/>
<rect x="548.90" y="257.53" width="1.813" height="3.97"/>
<rect x="550.36" y="257.16" width="1.813" height="4.34"/>
<rect x="551.83" y="256.79" width="1.813" height="4.71"/>
<rect x="553.29" y="256.43" width="1.813" height="5.07"/>
<rect x="554.75" y="256.06" width="1.813" height="5.44"/>
<rect x="556.22" y="255.76" width="1.813" height="5.74"/>
<rect x="557.68" y="255.47" width="1.813" height="6.03"/>
<rect x="559.14" y="255.17" width="1.813" height="6.33"/>
<rect x="560.61" y="254.86" width="1.813" height="6.64"/>
<rect x="562.07" y="254.53" width="1.813" height="6.97"/>
<rect x="563.53" y="254.20" width="1.813" height="7.30"/>
<rect x="565.00" y="253.96" width="1.813" height="7.54"/>
<rect x="566.46" y="253.81" width="1.813" height="7.69"/>
<rect x="567.92" y="253.66" width="1.813" height="7.84"/>
<rect x="569.39" y="253.55" width="1.813" height="7.95"/>
<rect x="570.85" y="253.51" width="1.813" height="7.99"/>
<rect x="572.31" y="253.47" width="1.813" height="8.03"/>
<rect x="573.78" y="253.44" width="1.813" height="8.06"/>
<rect x="575.24" y="253.38" width="1.813" height="8.12"/>
<rect x="576.70" y="253.28" width="1.813" height="8.22"/>
<rect x="578.17" y="252.88" width="1.813" height="8.62"/>
<rect x="579.63" y="253.34" width="1.813" height="8.16"/>
<rect x="581.09" y="253.45" width="1.813" height="8.05"/>
<rect x="582.56" y="253.47" width="1.813" height="8.03"/>
<rect x="584.02" y="253.50" width="1.813" height="8.00"/>
<rect x="585.48" y="253.52" width="1.813" height="7.98"/>
<rect x="586.95" y="253.55" width="1.813" height="7.95"/>
<rect x="588.41" y="253.63" width="1.813" height="7.87"/>
<rect x="589.87" y="253.78" width="1.813" height="7.72"/>
<rect x="591.34" y="253.93" width="1.813" height="7.57"/>
<rect x="592.80" y="254.08" width="1.813" height="7.42"/>
<rect x="594.26" y="254.27" width="1.813" height="7.23"/>
<rect x="595.73" y="254.45" width="1.813" height="7.05"/>
<rect x="597.19" y="254.63" width="1.813" height="6.87"/>
<rect x="598.65" y="254.82" width="1.813" height="6.68"/>
<rect x="600.12" y="255.00" width="1.813" height="6.50"/>
<rect x="601.58" y="255.18" width="1.813" height="6.32"/>
<rect x="603.04" y="255.36" width="1.813" height="6.14"/>
<rect x="604.51" y="255.55" width="1.813" height="5.95"/>
<rect x="605.97" y="255.73" width="1.813" height="5.77"/>
<rect x="607.43" y="255.91" width="1.813" height="5.59"/>
<rect x="608.90" y="256.08" width="1.813" height="5.42"/>
<rect x="610.36" y="256.28" width="1.813" height="5.22"/>
<rect x="611.82" y="256.47" width="1.813" height="5.03"/>
<rect x="613.29" y="256.67" width="1.813" height="4.83"/>
<rect x="614.75" y="256.87" width="1.813" height="4.63"/>
<rect x="616.21" y="257.03" width="1.813" height="4.47"/>
<rect x="617.68" y="257.12" width="1.813" height="4.38"/>
<rect x="619.14" y="257.21" width="1.813" height="4.29"/>
<rect x="620.60" y="257.31" width="1.813" height="4.19"/>
<rect x="622.07" y="257.40" width="1.813" height="4.10"/>
<rect x="623.53" y="257.49" width="1.813" height="4.01"/>
<rect x="624.99" y="257.67" width="1.813" height="3.83"/>
<rect x="626.46" y="257.89" width="1.813" height="3.61"/>
<rect x="627.92" y="258.11" width="1.813" height="3.39"/>
<rect x="629.38" y="258.33" width="1.813" height="3.17"/>
<rect x="630.85" y="258.50" width="1.813" height="3.00"/>
<rect x="632.31" y="258.61" width="1.813" height="2.89"/>
<rect x="633.77" y="258.73" width="1.813" height="2.77"/>
<rect x="635.24" y="258.85" width="1.813" height="2.65"/>
<rect x="636.70" y="258.97" width="1.813" height="2.53"/>
<rect x="638.16" y="259.08" width="1.813" height="2.42"/>
<rect x="639.63" y="259.20" width="1.813" height="2.30"/>
<rect x="641.09" y="259.32" width="1.813" height="2.18"/>
<rect x="642.55" y="259.43" width="1.813" height="2.07"/>
<rect x="644.02" y="259.55" width="1.813" height="1.95"/>
<rect x="645.48" y="259.67" width="1.813" height="1.83"/>
<rect x="646.94" y="259.78" width="1.813" height="1.72"/>
<rect x="648.41" y="259.90" width="1.813" height="1.60"/>
<rect x="649.87" y="260.02" width="1.813" height="1.48"/>
<rect x="651.33" y="260.11" width="1.813" height="1.39"/>
<rect x="652.80" y="260.18" width="1.813" height="1.32"/>
<rect x="654.26" y="260.26" width="1.813" height="1.24"/>
<rect x="655.72" y="260.33" width="1.813" height="1.17"/>
<rect x="657.19" y="260.40" width="1.813" height="1.10"/>
<rect x="658.65" y="260.48" width="1.813" height="1.02"/>
<rect x="660.11" y="260.55" width="1.813" height="0.95"/>
<rect x="661.58" y="260.62" width="1.813" height="0.88"/>
<rect x="663.04" y="260.70" width="1.813" height="0.80"/>
<rect x="664.50" y="260.77" width="1.813" height="0.73"/>
<rect x="665.97" y="260.84" width="1.813" height="0.66"/>
<rect x="667.43" y="260.91" width="1.813" height="0.59"/>
<rect x="668.89" y="260.98" width="1.813" height="0.52"/>
<rect x="670.36" y="261.05" width="1.813" height="0.45"/>
<rect x="671.82" y="261.12" width="1.813" height="0.38"/>
<rect x="673.28" y="261.19" width="1.813" height="0.31"/>
<rect x="674.75" y="261.26" width="1.813" height="0.24"/>
<rect x="676.21" y="261.33" width="1.813" height="0.17"/>
</g>
<line x1="505" y1="239.2" x2="505" y2="261.95" stroke="#2a2a2a" stroke-width="0.9" />
<line x1="505" y1="261.5" x2="681.05" y2="261.5" stroke="#2a2a2a" stroke-width="0.9" />
<line x1="502" y1="239.65" x2="505" y2="239.65" stroke="#2a2a2a" stroke-width="0.9" />
<text x="499.6" y="242.8" font-size="7.65" text-anchor="end" >0.1</text>
<line x1="502" y1="261.5" x2="505" y2="261.5" stroke="#2a2a2a" stroke-width="0.9" />
<text x="499.6" y="264.35" font-size="7.65" text-anchor="end" >0.0</text>
<line x1="505" y1="261.5" x2="505" y2="264.5" stroke="#2a2a2a" stroke-width="0.9" />
<line x1="534.27" y1="261.5" x2="534.27" y2="264.5" stroke="#2a2a2a" stroke-width="0.9" />
<line x1="563.53" y1="261.5" x2="563.53" y2="264.5" stroke="#2a2a2a" stroke-width="0.9" />
<line x1="592.8" y1="261.5" x2="592.8" y2="264.5" stroke="#2a2a2a" stroke-width="0.9" />
<line x1="622.07" y1="261.5" x2="622.07" y2="264.5" stroke="#2a2a2a" stroke-width="0.9" />
<line x1="651.33" y1="261.5" x2="651.33" y2="264.5" stroke="#2a2a2a" stroke-width="0.9" />
<line x1="680.6" y1="261.5" x2="680.6" y2="264.5" stroke="#2a2a2a" stroke-width="0.9" />
<text x="680.6" y="235.3" font-size="9.12" text-anchor="end" style="stroke-width:0.06px">Candidatus endoloripes</text>
<g fill="#e377c2">
<rect x="516.71" y="305.21" width="1.813" height="1.79"/>
<rect x="518.17" y="302.90" width="1.813" height="4.10"/>
<rect x="519.63" y="299.54" width="1.813" height="7.46"/>
<rect x="521.10" y="296.59" width="1.813" height="10.41"/>
<rect x="522.56" y="293.66" width="1.813" height="13.34"/>
<rect x="524.02" y="291.82" width="1.813" height="15.18"/>
<rect x="525.49" y="290.16" width="1.813" height="16.84"/>
<rect x="526.95" y="289.15" width="1.813" height="17.85"/>
<rect x="528.41" y="288.35" width="1.813" height="18.65"/>
<rect x="529.88" y="287.54" width="1.813" height="19.46"/>
<rect x="531.34" y="287.33" width="1.813" height="19.67"/>
<rect x="532.80" y="287.13" width="1.813" height="19.87"/>
<rect x="534.27" y="287.43" width="1.813" height="19.57"/>
<rect x="535.73" y="287.79" width="1.813" height="19.21"/>
<rect x="537.19" y="288.20" width="1.813" height="18.80"/>
<rect x="538.66" y="289.08" width="1.813" height="17.92"/>
<rect x="540.12" y="289.96" width="1.813" height="17.04"/>
<rect x="541.58" y="290.83" width="1.813" height="16.17"/>
<rect x="543.05" y="291.77" width="1.813" height="15.23"/>
<rect x="544.51" y="292.75" width="1.813" height="14.25"/>
<rect x="545.97" y="293.72" width="1.813" height="13.28"/>
<rect x="547.44" y="294.70" width="1.813" height="12.30"/>
<rect x="548.90" y="295.61" width="1.813" height="11.39"/>
<rect x="550.36" y="296.44" width="1.813" height="10.56"/>
<rect x="551.83" y="297.27" width="1.813" height="9.73"/>
<rect x="553.29" y="298.10" width="1.813" height="8.90"/>
<rect x="554.75" y="298.89" width="1.813" height="8.11"/>
<rect x="556.22" y="299.52" width="1.813" height="7.48"/>
<rect x="557.68" y="300.16" width="1.813" height="6.84"/>
<rect x="559.14" y="300.79" width="1.813" height="6.21"/>
<rect x="560.61" y="301.42" width="1.813" height="5.58"/>
<rect x="562.07" y="301.86" width="1.813" height="5.14"/>
<rect x="563.53" y="302.30" width="1.813" height="4.70"/>
<rect x="565.00" y="302.74" width="1.813" height="4.26"/>
<rect x="566.46" y="303.18" width="1.813" height="3.82"/>
<rect x="567.92" y="303.54" width="1.813" height="3.46"/>
<rect x="569.39" y="303.88" width="1.813" height="3.12"/>
<rect x="570.85" y="304.22" width="1.813" height="2.78"/>
<rect x="572.31" y="304.56" width="1.813" height="2.44"/>
<rect x="573.78" y="304.80" width="1.813" height="2.20"/>
<rect x="575.24" y="304.99" width="1.813" height="2.01"/>
<rect x="576.70" y="305.17" width="1.813" height="1.83"/>
<rect x="578.17" y="305.35" width="1.813" height="1.65"/>
<rect x="579.63" y="305.53" width="1.813" height="1.47"/>
<rect x="581.09" y="305.71" width="1.813" height="1.29"/>
<rect x="582.56" y="305.83" width="1.813" height="1.17"/>
<rect x="584.02" y="305.95" width="1.813" height="1.05"/>
<rect x="585.48" y="306.06" width="1.813" height="0.94"/>
<rect x="586.95" y="306.18" width="1.813" height="0.82"/>
<rect x="588.41" y="306.30" width="1.813" height="0.70"/>
<rect x="589.87" y="306.42" width="1.813" height="0.58"/>
<rect x="591.34" y="306.53" width="1.813" height="0.47"/>
<rect x="592.80" y="306.60" width="1.813" height="0.40"/>
<rect x="594.26" y="306.67" width="1.813" height="0.33"/>
<rect x="595.73" y="306.73" width="1.813" height="0.27"/>
<rect x="597.19" y="306.80" width="1.813" height="0.20"/>
<rect x="598.65" y="306.87" width="1.813" height="0.13"/>
</g>
<line x1="505" y1="284.7" x2="505" y2="307.45" stroke="#2a2a2a" stroke-width="0.9" />
<line x1="505" y1="307" x2="681.05" y2="307" stroke="#2a2a2a" stroke-width="0.9" />
<line x1="502" y1="285.15" x2="505" y2="285.15" stroke="#2a2a2a" stroke-width="0.9" />
<text x="499.6" y="288.3" font-size="7.65" text-anchor="end" >0.1</text>
<line x1="502" y1="307" x2="505" y2="307" stroke="#2a2a2a" stroke-width="0.9" />
<text x="499.6" y="309.85" font-size="7.65" text-anchor="end" >0.0</text>
<line x1="505" y1="307" x2="505" y2="310" stroke="#2a2a2a" stroke-width="0.9" />
<line x1="534.27" y1="307" x2="534.27" y2="310" stroke="#2a2a2a" stroke-width="0.9" />
<line x1="563.53" y1="307" x2="563.53" y2="310" stroke="#2a2a2a" stroke-width="0.9" />
<line x1="592.8" y1="307" x2="592.8" y2="310" stroke="#2a2a2a" stroke-width="0.9" />
<line x1="622.07" y1="307" x2="622.07" y2="310" stroke="#2a2a2a" stroke-width="0.9" />
<line x1="651.33" y1="307" x2="651.33" y2="310" stroke="#2a2a2a" stroke-width="0.9" />
<line x1="680.6" y1="307" x2="680.6" y2="310" stroke="#2a2a2a" stroke-width="0.9" />
<text x="680.6" y="280.8" font-size="9.12" text-anchor="end" style="stroke-width:0.06px">Vigna mungo</text>
<g fill="#7f7f7f">
<rect x="522.56" y="352.28" width="1.813" height="0.30"/>
<rect x="524.02" y="351.65" width="1.813" height="0.93"/>
<rect x="525.49" y="351.03" width="1.813" height="1.55"/>
<rect x="526.95" y="350.33" width="1.813" height="2.25"/>
<rect x="528.41" y="349.60" width="1.813" height="2.98"/>
<rect x="529.88" y="348.86" width="1.813" height="3.72"/>
<rect x="531.34" y="348.13" width="1.813" height="4.45"/>
<rect x="532.80" y="347.40" width="1.813" height="5.18"/>
<rect x="534.27" y="346.76" width="1.813" height="5.82"/>
<rect x="535.73" y="346.12" width="1.813" height="6.46"/>
<rect x="537.19" y="345.54" width="1.813" height="7.04"/>
<rect x="538.66" y="345.00" width="1.813" height="7.58"/>
<rect x="540.12" y="344.48" width="1.813" height="8.10"/>
<rect x="541.58" y="344.09" width="1.813" height="8.49"/>
<rect x="543.05" y="343.70" width="1.813" height="8.88"/>
<rect x="544.51" y="343.46" width="1.813" height="9.12"/>
<rect x="545.97" y="343.27" width="1.813" height="9.31"/>
<rect x="547.44" y="343.09" width="1.813" height="9.49"/>
<rect x="548.90" y="343.03" width="1.813" height="9.55"/>
<rect x="550.36" y="343.08" width="1.813" height="9.50"/>
<rect x="551.83" y="343.14" width="1.813" height="9.44"/>
<rect x="553.29" y="343.34" width="1.813" height="9.24"/>
<rect x="554.75" y="343.54" width="1.813" height="9.04"/>
<rect x="556.22" y="343.80" width="1.813" height="8.78"/>
<rect x="557.68" y="344.09" width="1.813" height="8.49"/>
<rect x="559.14" y="344.29" width="1.813" height="8.29"/>
<rect x="560.61" y="344.29" width="1.813" height="8.29"/>
<rect x="562.07" y="344.29" width="1.813" height="8.29"/>
<rect x="563.53" y="344.29" width="1.813" height="8.29"/>
<rect x="565.00" y="344.39" width="1.813" height="8.19"/>
<rect x="566.46" y="344.68" width="1.813" height="7.90"/>
<rect x="567.92" y="344.98" width="1.813" height="7.60"/>
<rect x="569.39" y="345.27" width="1.813" height="7.31"/>
<rect x="570.85" y="345.56" width="1.813" height="7.02"/>
<rect x="572.31" y="345.85" width="1.813" height="6.73"/>
<rect x="573.78" y="345.98" width="1.813" height="6.60"/>
<rect x="575.24" y="346.05" width="1.813" height="6.53"/>
<rect x="576.70" y="346.13" width="1.813" height="6.45"/>
<rect x="578.17" y="346.32" width="1.813" height="6.26"/>
<rect x="579.63" y="346.62" width="1.813" height="5.96"/>
<rect x="581.09" y="346.91" width="1.813" height="5.67"/>
<rect x="582.56" y="347.15" width="1.813" height="5.43"/>
<rect x="584.02" y="347.29" width="1.813" height="5.29"/>
<rect x="585.48" y="347.44" width="1.813" height="5.14"/>
<rect x="586.95" y="347.61" width="1.813" height="4.97"/>
<rect x="588.41" y="347.92" width="1.813" height="4.66"/>
<rect x="589.87" y="348.14" width="1.813" height="4.44"/>
<rect x="591.34" y="348.26" width="1.813" height="4.32"/>
<rect x="592.80" y="348.37" width="1.813" height="4.21"/>
<rect x="594.26" y="348.49" width="1.813" height="4.09"/>
<rect x="595.73" y="348.68" width="1.813" height="3.90"/>
<rect x="597.19" y="348.88" width="1.813" height="3.70"/>
<rect x="598.65" y="349.01" width="1.813" height="3.57"/>
<rect x="600.12" y="349.14" width="1.813" height="3.44"/>
<rect x="601.58" y="349.27" width="1.813" height="3.31"/>
<rect x="603.04" y="349.40" width="1.813" height="3.18"/>
<rect x="604.51" y="349.53" width="1.813" height="3.05"/>
<rect x="605.97" y="349.66" width="1.813" height="2.92"/>
<rect x="607.43" y="349.79" width="1.813" height="2.79"/>
<rect x="608.90" y="349.92" width="1.813" height="2.66"/>
<rect x="610.36" y="350.05" width="1.813" height="2.53"/>
<rect x="611.82" y="350.18" width="1.813" height="2.40"/>
<rect x="613.29" y="350.31" width="1.813" height="2.27"/>
<rect x="614.75" y="350.45" width="1.813" height="2.13"/>
<rect x="616.21" y="350.57" width="1.813" height="2.01"/>
<rect x="617.68" y="350.69" width="1.813" height="1.89"/>
<rect x="619.14" y="350.81" width="1.813" height="1.77"/>
<rect x="620.60" y="350.92" width="1.813" height="1.66"/>
<rect x="622.07" y="351.04" width="1.813" height="1.54"/>
<rect x="623.53" y="351.16" width="1.813" height="1.42"/>
<rect x="624.99" y="351.27" width="1.813" height="1.31"/>
<rect x="626.46" y="351.38" width="1.813" height="1.20"/>
<rect x="627.92" y="351.47" width="1.813" height="1.11"/>
<rect x="629.38" y="351.56" width="1.813" height="1.02"/>
<rect x="630.85" y="351.65" width="1.813" height="0.93"/>
<rect x="632.31" y="351.73" width="1.813" height="0.85"/>
<rect x="633.77" y="351.82" width="1.813" height="0.76"/>
<rect x="635.24" y="351.91" width="1.813" height="0.67"/>
<rect x="636.70" y="351.99" width="1.813" height="0.59"/>
<rect x="638.16" y="352.05" width="1.813" height="0.53"/>
<rect x="639.63" y="352.11" width="1.813" height="0.47"/>
<rect x="641.09" y="352.18" width="1.813" height="0.40"/>
<rect x="642.55" y="352.24" width="1.813" height="0.34"/>
<rect x="644.02" y="352.30" width="1.813" height="0.28"/>
<rect x="645.48" y="352.36" width="1.813" height="0.22"/>
<rect x="646.94" y="352.43" width="1.813" height="0.15"/>
</g>
<line x1="505" y1="330.28" x2="505" y2="353.03" stroke="#2a2a2a" stroke-width="0.9" />
<line x1="505" y1="352.58" x2="681.05" y2="352.58" stroke="#2a2a2a" stroke-width="0.9" />
<line x1="502" y1="330.73" x2="505" y2="330.73" stroke="#2a2a2a" stroke-width="0.9" />
<text x="499.6" y="333.88" font-size="7.65" text-anchor="end" >0.1</text>
<line x1="502" y1="352.58" x2="505" y2="352.58" stroke="#2a2a2a" stroke-width="0.9" />
<text x="499.6" y="355.43" font-size="7.65" text-anchor="end" >0.0</text>
<line x1="505" y1="352.58" x2="505" y2="355.58" stroke="#2a2a2a" stroke-width="0.9" />
<line x1="534.27" y1="352.58" x2="534.27" y2="355.58" stroke="#2a2a2a" stroke-width="0.9" />
<line x1="563.53" y1="352.58" x2="563.53" y2="355.58" stroke="#2a2a2a" stroke-width="0.9" />
<line x1="592.8" y1="352.58" x2="592.8" y2="355.58" stroke="#2a2a2a" stroke-width="0.9" />
<line x1="622.07" y1="352.58" x2="622.07" y2="355.58" stroke="#2a2a2a" stroke-width="0.9" />
<line x1="651.33" y1="352.58" x2="651.33" y2="355.58" stroke="#2a2a2a" stroke-width="0.9" />
<line x1="680.6" y1="352.58" x2="680.6" y2="355.58" stroke="#2a2a2a" stroke-width="0.9" />
<text x="680.6" y="326.38" font-size="9.12" text-anchor="end" style="stroke-width:0.06px">H. sapiens</text>
<g fill="#bcbd22">
<rect x="534.27" y="397.90" width="1.813" height="0.60"/>
<rect x="535.73" y="397.32" width="1.813" height="1.18"/>
<rect x="537.19" y="396.82" width="1.813" height="1.68"/>
<rect x="538.66" y="396.38" width="1.813" height="2.12"/>
<rect x="540.12" y="395.95" width="1.813" height="2.55"/>
<rect x="541.58" y="395.49" width="1.813" height="3.01"/>
<rect x="543.05" y="395.01" width="1.813" height="3.49"/>
<rect x="544.51" y="394.54" width="1.813" height="3.96"/>
<rect x="545.97" y="394.06" width="1.813" height="4.44"/>
<rect x="547.44" y="393.59" width="1.813" height="4.91"/>
<rect x="548.90" y="393.11" width="1.813" height="5.39"/>
<rect x="550.36" y="392.63" width="1.813" height="5.87"/>
<rect x="551.83" y="392.12" width="1.813" height="6.38"/>
<rect x="553.29" y="391.61" width="1.813" height="6.89"/>
<rect x="554.75" y="391.10" width="1.813" height="7.40"/>
<rect x="556.22" y="390.69" width="1.813" height="7.81"/>
<rect x="557.68" y="390.30" width="1.813" height="8.20"/>
<rect x="559.14" y="389.96" width="1.813" height="8.54"/>
<rect x="560.61" y="389.66" width="1.813" height="8.84"/>
<rect x="562.07" y="389.38" width="1.813" height="9.12"/>
<rect x="563.53" y="389.18" width="1.813" height="9.32"/>
<rect x="565.00" y="388.99" width="1.813" height="9.51"/>
<rect x="566.46" y="388.73" width="1.813" height="9.77"/>
<rect x="567.92" y="388.38" width="1.813" height="10.12"/>
<rect x="569.39" y="387.63" width="1.813" height="10.87"/>
<rect x="570.85" y="388.48" width="1.813" height="10.02"/>
<rect x="572.31" y="388.71" width="1.813" height="9.79"/>
<rect x="573.78" y="388.94" width="1.813" height="9.56"/>
<rect x="575.24" y="389.08" width="1.813" height="9.42"/>
<rect x="576.70" y="389.23" width="1.813" height="9.27"/>
<rect x="578.17" y="389.31" width="1.813" height="9.19"/>
<rect x="579.63" y="389.36" width="1.813" height="9.14"/>
<rect x="581.09" y="389.45" width="1.813" height="9.05"/>
<rect x="582.56" y="389.64" width="1.813" height="8.86"/>
<rect x="584.02" y="389.84" width="1.813" height="8.66"/>
<rect x="585.48" y="390.08" width="1.813" height="8.42"/>
<rect x="586.95" y="390.32" width="1.813" height="8.18"/>
<rect x="588.41" y="390.57" width="1.813" height="7.93"/>
<rect x="589.87" y="390.81" width="1.813" height="7.69"/>
<rect x="591.34" y="391.04" width="1.813" height="7.46"/>
<rect x="592.80" y="391.13" width="1.813" height="7.37"/>
<rect x="594.26" y="391.23" width="1.813" height="7.27"/>
<rect x="595.73" y="391.44" width="1.813" height="7.06"/>
<rect x="597.19" y="391.70" width="1.813" height="6.80"/>
<rect x="598.65" y="391.96" width="1.813" height="6.54"/>
<rect x="600.12" y="392.21" width="1.813" height="6.29"/>
<rect x="601.58" y="392.47" width="1.813" height="6.03"/>
<rect x="603.04" y="392.72" width="1.813" height="5.78"/>
<rect x="604.51" y="392.98" width="1.813" height="5.52"/>
<rect x="605.97" y="393.24" width="1.813" height="5.26"/>
<rect x="607.43" y="393.50" width="1.813" height="5.00"/>
<rect x="608.90" y="393.76" width="1.813" height="4.74"/>
<rect x="610.36" y="393.96" width="1.813" height="4.54"/>
<rect x="611.82" y="394.14" width="1.813" height="4.36"/>
<rect x="613.29" y="394.32" width="1.813" height="4.18"/>
<rect x="614.75" y="394.49" width="1.813" height="4.01"/>
<rect x="616.21" y="394.67" width="1.813" height="3.83"/>
<rect x="617.68" y="394.85" width="1.813" height="3.65"/>
<rect x="619.14" y="395.02" width="1.813" height="3.48"/>
<rect x="620.60" y="395.20" width="1.813" height="3.30"/>
<rect x="622.07" y="395.37" width="1.813" height="3.13"/>
<rect x="623.53" y="395.55" width="1.813" height="2.95"/>
<rect x="624.99" y="395.72" width="1.813" height="2.78"/>
<rect x="626.46" y="395.89" width="1.813" height="2.61"/>
<rect x="627.92" y="396.04" width="1.813" height="2.46"/>
<rect x="629.38" y="396.18" width="1.813" height="2.32"/>
<rect x="630.85" y="396.33" width="1.813" height="2.17"/>
<rect x="632.31" y="396.48" width="1.813" height="2.02"/>
<rect x="633.77" y="396.62" width="1.813" height="1.88"/>
<rect x="635.24" y="396.77" width="1.813" height="1.73"/>
<rect x="636.70" y="396.90" width="1.813" height="1.60"/>
<rect x="638.16" y="396.98" width="1.813" height="1.52"/>
<rect x="639.63" y="397.07" width="1.813" height="1.43"/>
<rect x="641.09" y="397.16" width="1.813" height="1.34"/>
<rect x="642.55" y="397.25" width="1.813" height="1.25"/>
<rect x="644.02" y="397.33" width="1.813" height="1.17"/>
<rect x="645.48" y="397.42" width="1.813" height="1.08"/>
<rect x="646.94" y="397.50" width="1.813" height="1.00"/>
<rect x="648.41" y="397.58" width="1.813" height="0.92"/>
<rect x="649.87" y="397.65" width="1.813" height="0.85"/>
<rect x="651.33" y="397.72" width="1.813" height="0.78"/>
<rect x="652.80" y="397.80" width="1.813" height="0.70"/>
<rect x="654.26" y="397.87" width="1.813" height="0.63"/>
<rect x="655.72" y="397.94" width="1.813" height="0.56"/>
<rect x="657.19" y="398.02" width="1.813" height="0.48"/>
<rect x="658.65" y="398.09" width="1.813" height="0.41"/>
<rect x="660.11" y="398.14" width="1.813" height="0.36"/>
<rect x="661.58" y="398.19" width="1.813" height="0.31"/>
<rect x="663.04" y="398.24" width="1.813" height="0.26"/>
<rect x="664.50" y="398.29" width="1.813" height="0.21"/>
<rect x="665.97" y="398.33" width="1.813" height="0.17"/>
</g>
<line x1="505" y1="376.2" x2="505" y2="398.95" stroke="#2a2a2a" stroke-width="0.9" />
<line x1="505" y1="398.5" x2="681.05" y2="398.5" stroke="#2a2a2a" stroke-width="0.9" />
<line x1="502" y1="376.65" x2="505" y2="376.65" stroke="#2a2a2a" stroke-width="0.9" />
<text x="499.6" y="379.8" font-size="7.65" text-anchor="end" >0.1</text>
<line x1="502" y1="398.5" x2="505" y2="398.5" stroke="#2a2a2a" stroke-width="0.9" />
<text x="499.6" y="401.35" font-size="7.65" text-anchor="end" >0.0</text>
<line x1="505" y1="398.5" x2="505" y2="401.5" stroke="#2a2a2a" stroke-width="0.9" />
<text x="505" y="409.2" font-size="7.65" text-anchor="middle" >0</text>
<line x1="534.27" y1="398.5" x2="534.27" y2="401.5" stroke="#2a2a2a" stroke-width="0.9" />
<text x="534.27" y="409.2" font-size="7.65" text-anchor="middle" >10</text>
<line x1="563.53" y1="398.5" x2="563.53" y2="401.5" stroke="#2a2a2a" stroke-width="0.9" />
<text x="563.53" y="409.2" font-size="7.65" text-anchor="middle" >20</text>
<line x1="592.8" y1="398.5" x2="592.8" y2="401.5" stroke="#2a2a2a" stroke-width="0.9" />
<text x="592.8" y="409.2" font-size="7.65" text-anchor="middle" >30</text>
<line x1="622.07" y1="398.5" x2="622.07" y2="401.5" stroke="#2a2a2a" stroke-width="0.9" />
<text x="622.07" y="409.2" font-size="7.65" text-anchor="middle" >40</text>
<line x1="651.33" y1="398.5" x2="651.33" y2="401.5" stroke="#2a2a2a" stroke-width="0.9" />
<text x="651.33" y="409.2" font-size="7.65" text-anchor="middle" >50</text>
<line x1="680.6" y1="398.5" x2="680.6" y2="401.5" stroke="#2a2a2a" stroke-width="0.9" />
<text x="680.6" y="409.2" font-size="7.65" text-anchor="middle" >60</text>
<text x="680.6" y="372.3" font-size="9.12" text-anchor="end" style="stroke-width:0.06px">Mus musculus</text>
<text x="592.8" y="419.6" font-size="7.65" text-anchor="middle" >Percent matched</text>
</g>
<text transform="translate(-0.8,447.9) scale(1.2,1)" font-size="14.8" style="font-family:'Liberation Serif',serif;fill:#111;stroke:#111;stroke-width:0.25px">a</text><text transform="translate(237.7,448.3) scale(1,1)" font-size="15.8" style="font-family:'Liberation Serif',serif;fill:#111;stroke:#111;stroke-width:0.05px">b</text><text transform="translate(474.3,447.9) scale(1.12,1)" font-size="14.8" style="font-family:'Liberation Serif',serif;fill:#111;stroke:#111;stroke-width:0.3px">c</text>
</svg></body></html>
